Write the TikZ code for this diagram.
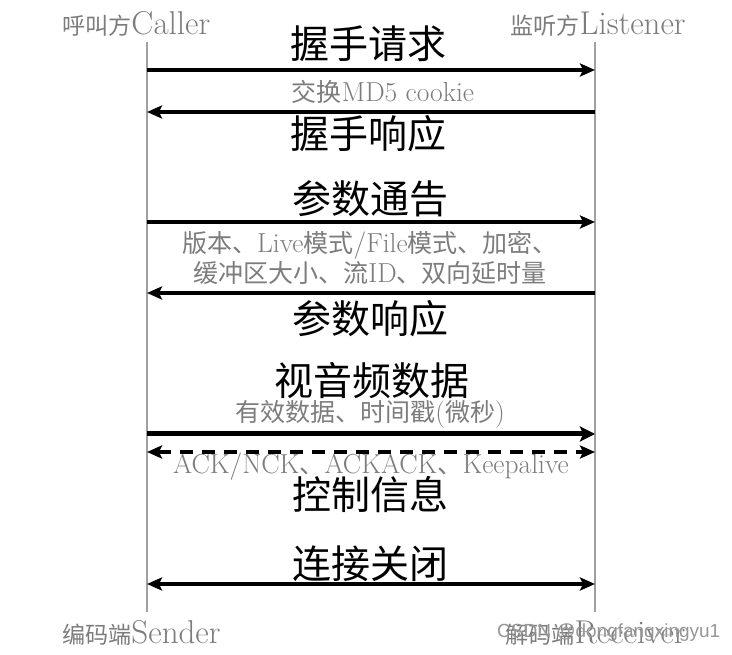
\documentclass[tikz,border=0pt]{standalone}
\usepackage{fontspec}
\newfontfamily\cjkbig{Noto Sans CJK SC}
\newfontfamily\cjkp{Noto Sans CJK SC}[Scale=0.70]
\newfontfamily\cjkn{Noto Sans CJK SC}[Scale=0.91]
\newfontfamily\wm{Liberation Sans}
\usetikzlibrary{arrows.meta}
\definecolor{lifegray}{HTML}{A0A0A0}
\definecolor{labgray}{HTML}{7C7C7C}
\tikzset{
  lifeline/.style={draw=lifegray, line width=2pt},
  tip/.tip={Stealth[length=15pt,width=13pt,inset=3pt]},
  msg/.style={draw=black, line width=3.2pt, -tip},
  bigmsg/.style={draw=black, line width=5pt, -{Stealth[length=15pt,width=15pt,inset=3pt]}},
  title/.style={font=\fontsize{39}{40}\selectfont\cjkbig, text=black, inner sep=0pt},
  note/.style={font=\fontsize{27.5}{27}\selectfont, text=labgray, inner sep=0pt, align=center},
  party/.style={font=\fontsize{33}{33}\selectfont, text=labgray, inner sep=0pt}
}
\begin{document}
\begin{tikzpicture}[x=1pt,y=-1pt]
\useasboundingbox (0,0) rectangle (732,655);
% parties
\node[party, anchor=west] (caller) at (62,24) {{\cjkp 呼叫方}Caller};
\node[party, anchor=west] (listener) at (510,24) {{\cjkp 监听方}Listener};
\node[party, anchor=west] (sender) at (62,633) {{\cjkp 编码端}Sender};
\node[party, anchor=west] (receiver) at (505,633) {{\cjkp 解码端}Receiver};
\node[anchor=west, inner sep=0pt, text=labgray!80, font=\fontsize{19}{22}\selectfont\wm] (wmark) at (497,633) {CSDN @dongfangxingyu1};
% lifelines
\coordinate (Ltop) at (147,42); \coordinate (Lbot) at (147,612);
\coordinate (Rtop) at (595,42); \coordinate (Rbot) at (595,612);
\draw[lifeline] (Ltop) -- (Lbot);
\draw[lifeline] (Rtop) -- (Rbot);
% message endpoints
\foreach \n/\y in {1/70,2/112,3/222,4/293,5/434,6/452,7/584}{
  \coordinate (L\n) at (147,\y);
  \coordinate (R\n) at (595,\y);
}
% titles
\node[title] (t1) at (368,44) {握手请求};
\node[title] (t2) at (368,134) {握手响应};
\node[title] (t3) at (370,199) {参数通告};
\node[title] (t4) at (370,319) {参数响应};
\node[title] (t5) at (372,381) {视音频数据};
\node[title] (t6) at (370,495) {控制信息};
\node[title] (t7) at (370,564) {连接关闭};
% notes
\node[note] (n1) at (383,92) {{\cjkn 交换}MD5 cookie};
\node[note] (n2) at (370,258) {{\cjkn 版本、}Live{\cjkn 模式}/File{\cjkn 模式、加密、}\\[1pt]{\cjkn 缓冲区大小、流}ID{\cjkn 、双向延时量}};
\node[note] (n3) at (370,414) {{\cjkn 有效数据、时间戳}({\cjkn 微秒})};
\node[note] (n4) at (371,467) {ACK/NCK{\cjkn 、}ACKACK{\cjkn 、}Keepalive};
% arrows
\draw[msg] (L1) -- (R1);
\draw[msg] (R2) -- (L2);
\draw[msg] (L3) -- (R3);
\draw[msg] (R4) -- (L4);
\draw[bigmsg] (L5) -- (R5);
\draw[msg, dash pattern=on 13pt off 9pt, tip-tip] (L6) -- (R6);
\draw[msg, tip-tip] (L7) -- (R7);
\end{tikzpicture}
\end{document}
